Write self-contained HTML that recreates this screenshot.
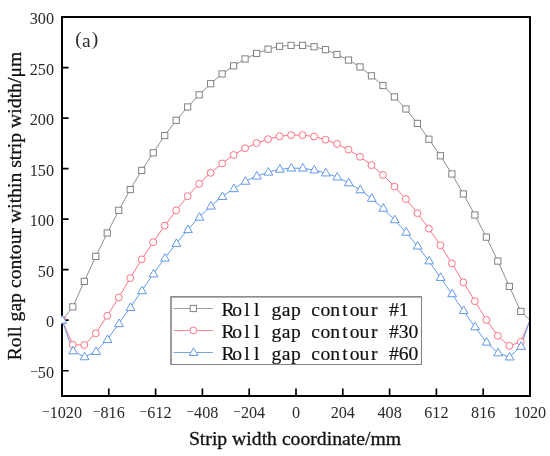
<!DOCTYPE html>
<html><head><meta charset="utf-8"><title>Roll gap contour</title>
<style>html,body{margin:0;padding:0;background:#fff;}svg{display:block;}
text{font-family:"Liberation Serif","Noto Serif CJK SC",serif;fill:#111;}
.b{stroke:#111;stroke-width:0.3px;}
.t{fill:#2a2a2a;}
.l{stroke:#111;stroke-width:0.18px;}
</style></head><body>
<svg width="550" height="456" viewBox="0 0 550 456">
<rect width="550" height="456" fill="#fff"/>
<defs><clipPath id="pc"><rect x="61" y="0" width="468" height="456"/></clipPath></defs>
<path d="M62.00,396.0V388.5M108.80,396.0V388.5M155.60,396.0V388.5M202.40,396.0V388.5M249.20,396.0V388.5M296.00,396.0V388.5M342.80,396.0V388.5M389.60,396.0V388.5M436.40,396.0V388.5M483.20,396.0V388.5M530.00,396.0V388.5M62.0,370.73H68.6M62.0,320.20H68.6M62.0,269.67H68.6M62.0,219.13H68.6M62.0,168.60H68.6M62.0,118.07H68.6M62.0,67.53H68.6M62.0,17.00H68.6" stroke="#000" stroke-width="1.7" fill="none"/>
<rect x="62.0" y="17.0" width="468.0" height="379.0" fill="none" stroke="#000" stroke-width="2"/>
<g clip-path="url(#pc)" fill="#fff">
<polyline points="62.00,320.20 72.80,306.86 84.29,281.39 95.77,256.42 107.26,232.98 118.75,210.34 130.24,189.52 141.72,170.42 153.21,152.83 164.70,135.55 176.18,120.29 187.67,106.95 199.16,94.82 210.64,83.70 222.13,73.90 233.62,65.81 245.11,58.94 256.59,53.48 268.08,49.14 279.57,46.31 291.05,45.40 302.54,45.40 314.03,46.71 325.51,49.64 337.00,54.49 348.49,60.05 359.98,66.92 371.46,75.82 382.95,85.52 394.44,96.94 405.92,108.97 417.41,123.42 428.90,139.19 440.38,155.76 451.87,173.95 463.36,193.96 474.85,214.99 486.33,237.12 497.82,261.07 509.31,286.44 520.79,311.40 530.00,320.20" fill="none" stroke="#8e8e8e" stroke-width="1"/>
<polyline points="62.00,320.20 72.80,344.76 84.29,344.96 95.77,333.23 107.26,315.75 118.75,297.46 130.24,278.15 141.72,259.35 153.21,242.17 164.70,225.60 176.18,210.34 187.67,196.19 199.16,183.86 210.64,172.84 222.13,163.44 233.62,154.95 245.11,148.28 256.59,143.13 268.08,139.19 279.57,136.26 291.05,135.14 302.54,135.14 314.03,136.56 325.51,139.69 337.00,143.94 348.49,149.60 359.98,156.77 371.46,165.16 382.95,174.96 394.44,186.59 405.92,199.02 417.41,213.17 428.90,228.63 440.38,245.21 451.87,263.40 463.36,282.30 474.85,301.20 486.33,319.89 497.82,335.86 509.31,345.87 520.79,341.83 530.00,320.20" fill="none" stroke="#ff7282" stroke-width="1"/>
<polyline points="62.00,320.20 72.80,350.91 84.29,356.88 95.77,351.62 107.26,339.60 118.75,323.73 130.24,307.56 141.72,290.78 153.21,274.00 164.70,258.24 176.18,243.48 187.67,229.74 199.16,217.30 210.64,206.19 222.13,196.59 233.62,188.80 245.11,181.32 256.59,176.17 268.08,172.23 279.57,169.30 291.05,168.19 302.54,168.19 314.03,170.11 325.51,173.04 337.00,177.08 348.49,182.94 359.98,189.92 371.46,198.41 382.95,208.31 394.44,219.83 405.92,232.26 417.41,246.11 428.90,260.97 440.38,277.54 451.87,293.81 463.36,310.69 474.85,326.86 486.33,342.22 497.82,352.94 509.31,357.08 520.79,346.47 530.00,320.20" fill="none" stroke="#6399ea" stroke-width="1"/>
<g stroke="#828282" stroke-width="1"><rect x="58.90" y="317.10" width="6.2" height="6.2"/><rect x="69.70" y="303.76" width="6.2" height="6.2"/><rect x="81.19" y="278.29" width="6.2" height="6.2"/><rect x="92.67" y="253.32" width="6.2" height="6.2"/><rect x="104.16" y="229.88" width="6.2" height="6.2"/><rect x="115.65" y="207.24" width="6.2" height="6.2"/><rect x="127.14" y="186.42" width="6.2" height="6.2"/><rect x="138.62" y="167.32" width="6.2" height="6.2"/><rect x="150.11" y="149.73" width="6.2" height="6.2"/><rect x="161.60" y="132.45" width="6.2" height="6.2"/><rect x="173.08" y="117.19" width="6.2" height="6.2"/><rect x="184.57" y="103.85" width="6.2" height="6.2"/><rect x="196.06" y="91.72" width="6.2" height="6.2"/><rect x="207.54" y="80.60" width="6.2" height="6.2"/><rect x="219.03" y="70.80" width="6.2" height="6.2"/><rect x="230.52" y="62.71" width="6.2" height="6.2"/><rect x="242.01" y="55.84" width="6.2" height="6.2"/><rect x="253.49" y="50.38" width="6.2" height="6.2"/><rect x="264.98" y="46.04" width="6.2" height="6.2"/><rect x="276.47" y="43.21" width="6.2" height="6.2"/><rect x="287.95" y="42.30" width="6.2" height="6.2"/><rect x="299.44" y="42.30" width="6.2" height="6.2"/><rect x="310.93" y="43.61" width="6.2" height="6.2"/><rect x="322.41" y="46.54" width="6.2" height="6.2"/><rect x="333.90" y="51.39" width="6.2" height="6.2"/><rect x="345.39" y="56.95" width="6.2" height="6.2"/><rect x="356.88" y="63.82" width="6.2" height="6.2"/><rect x="368.36" y="72.72" width="6.2" height="6.2"/><rect x="379.85" y="82.42" width="6.2" height="6.2"/><rect x="391.34" y="93.84" width="6.2" height="6.2"/><rect x="402.82" y="105.87" width="6.2" height="6.2"/><rect x="414.31" y="120.32" width="6.2" height="6.2"/><rect x="425.80" y="136.09" width="6.2" height="6.2"/><rect x="437.28" y="152.66" width="6.2" height="6.2"/><rect x="448.77" y="170.85" width="6.2" height="6.2"/><rect x="460.26" y="190.86" width="6.2" height="6.2"/><rect x="471.75" y="211.89" width="6.2" height="6.2"/><rect x="483.23" y="234.02" width="6.2" height="6.2"/><rect x="494.72" y="257.97" width="6.2" height="6.2"/><rect x="506.21" y="283.34" width="6.2" height="6.2"/><rect x="517.69" y="308.30" width="6.2" height="6.2"/></g>
<g stroke="#ff7282" stroke-width="1"><circle cx="62.00" cy="320.20" r="3.45"/><circle cx="72.80" cy="344.76" r="3.45"/><circle cx="84.29" cy="344.96" r="3.45"/><circle cx="95.77" cy="333.23" r="3.45"/><circle cx="107.26" cy="315.75" r="3.45"/><circle cx="118.75" cy="297.46" r="3.45"/><circle cx="130.24" cy="278.15" r="3.45"/><circle cx="141.72" cy="259.35" r="3.45"/><circle cx="153.21" cy="242.17" r="3.45"/><circle cx="164.70" cy="225.60" r="3.45"/><circle cx="176.18" cy="210.34" r="3.45"/><circle cx="187.67" cy="196.19" r="3.45"/><circle cx="199.16" cy="183.86" r="3.45"/><circle cx="210.64" cy="172.84" r="3.45"/><circle cx="222.13" cy="163.44" r="3.45"/><circle cx="233.62" cy="154.95" r="3.45"/><circle cx="245.11" cy="148.28" r="3.45"/><circle cx="256.59" cy="143.13" r="3.45"/><circle cx="268.08" cy="139.19" r="3.45"/><circle cx="279.57" cy="136.26" r="3.45"/><circle cx="291.05" cy="135.14" r="3.45"/><circle cx="302.54" cy="135.14" r="3.45"/><circle cx="314.03" cy="136.56" r="3.45"/><circle cx="325.51" cy="139.69" r="3.45"/><circle cx="337.00" cy="143.94" r="3.45"/><circle cx="348.49" cy="149.60" r="3.45"/><circle cx="359.98" cy="156.77" r="3.45"/><circle cx="371.46" cy="165.16" r="3.45"/><circle cx="382.95" cy="174.96" r="3.45"/><circle cx="394.44" cy="186.59" r="3.45"/><circle cx="405.92" cy="199.02" r="3.45"/><circle cx="417.41" cy="213.17" r="3.45"/><circle cx="428.90" cy="228.63" r="3.45"/><circle cx="440.38" cy="245.21" r="3.45"/><circle cx="451.87" cy="263.40" r="3.45"/><circle cx="463.36" cy="282.30" r="3.45"/><circle cx="474.85" cy="301.20" r="3.45"/><circle cx="486.33" cy="319.89" r="3.45"/><circle cx="497.82" cy="335.86" r="3.45"/><circle cx="509.31" cy="345.87" r="3.45"/><circle cx="520.79" cy="341.83" r="3.45"/></g>
<g stroke="#6399ea" stroke-width="1"><path d="M62.30,315.50L66.70,323.10L57.90,323.10Z"/><path d="M73.10,346.21L77.50,353.81L68.70,353.81Z"/><path d="M84.59,352.18L88.99,359.78L80.19,359.78Z"/><path d="M96.07,346.92L100.47,354.52L91.67,354.52Z"/><path d="M107.56,334.90L111.96,342.50L103.16,342.50Z"/><path d="M119.05,319.03L123.45,326.63L114.65,326.63Z"/><path d="M130.54,302.86L134.94,310.46L126.14,310.46Z"/><path d="M142.02,286.08L146.42,293.68L137.62,293.68Z"/><path d="M153.51,269.30L157.91,276.90L149.11,276.90Z"/><path d="M165.00,253.54L169.40,261.14L160.60,261.14Z"/><path d="M176.48,238.78L180.88,246.38L172.08,246.38Z"/><path d="M187.97,225.04L192.37,232.64L183.57,232.64Z"/><path d="M199.46,212.60L203.86,220.20L195.06,220.20Z"/><path d="M210.94,201.49L215.34,209.09L206.54,209.09Z"/><path d="M222.43,191.89L226.83,199.49L218.03,199.49Z"/><path d="M233.92,184.10L238.32,191.70L229.52,191.70Z"/><path d="M245.41,176.62L249.81,184.22L241.01,184.22Z"/><path d="M256.89,171.47L261.29,179.07L252.49,179.07Z"/><path d="M268.38,167.53L272.78,175.13L263.98,175.13Z"/><path d="M279.87,164.60L284.27,172.20L275.47,172.20Z"/><path d="M291.35,163.49L295.75,171.09L286.95,171.09Z"/><path d="M302.84,163.49L307.24,171.09L298.44,171.09Z"/><path d="M314.33,165.41L318.73,173.01L309.93,173.01Z"/><path d="M325.81,168.34L330.21,175.94L321.41,175.94Z"/><path d="M337.30,172.38L341.70,179.98L332.90,179.98Z"/><path d="M348.79,178.24L353.19,185.84L344.39,185.84Z"/><path d="M360.28,185.22L364.68,192.82L355.88,192.82Z"/><path d="M371.76,193.71L376.16,201.31L367.36,201.31Z"/><path d="M383.25,203.61L387.65,211.21L378.85,211.21Z"/><path d="M394.74,215.13L399.14,222.73L390.34,222.73Z"/><path d="M406.22,227.56L410.62,235.16L401.82,235.16Z"/><path d="M417.71,241.41L422.11,249.01L413.31,249.01Z"/><path d="M429.20,256.27L433.60,263.87L424.80,263.87Z"/><path d="M440.68,272.84L445.08,280.44L436.28,280.44Z"/><path d="M452.17,289.11L456.57,296.71L447.77,296.71Z"/><path d="M463.66,305.99L468.06,313.59L459.26,313.59Z"/><path d="M475.15,322.16L479.55,329.76L470.75,329.76Z"/><path d="M486.63,337.52L491.03,345.12L482.23,345.12Z"/><path d="M498.12,348.24L502.52,355.84L493.72,355.84Z"/><path d="M509.61,352.38L514.01,359.98L505.21,359.98Z"/><path d="M521.09,341.77L525.49,349.37L516.69,349.37Z"/></g>
</g>
<text class="t" x="54" y="377.83" font-size="16.2" text-anchor="end"><tspan font-size="13.6" dy="-2.0">−</tspan><tspan dy="2.0">50</tspan></text>
<text class="t" x="54" y="327.30" font-size="16.2" text-anchor="end">0</text>
<text class="t" x="54" y="276.77" font-size="16.2" text-anchor="end">50</text>
<text class="t" x="54" y="226.23" font-size="16.2" text-anchor="end">100</text>
<text class="t" x="54" y="175.70" font-size="16.2" text-anchor="end">150</text>
<text class="t" x="54" y="125.17" font-size="16.2" text-anchor="end">200</text>
<text class="t" x="54" y="74.63" font-size="16.2" text-anchor="end">250</text>
<text class="t" x="54" y="24.10" font-size="16.2" text-anchor="end">300</text>
<text class="t" x="62.00" y="417.6" font-size="16.2" text-anchor="middle"><tspan font-size="13.6" dy="-2.0">−</tspan><tspan dy="2.0">1020</tspan></text>
<text class="t" x="108.80" y="417.6" font-size="16.2" text-anchor="middle"><tspan font-size="13.6" dy="-2.0">−</tspan><tspan dy="2.0">816</tspan></text>
<text class="t" x="155.60" y="417.6" font-size="16.2" text-anchor="middle"><tspan font-size="13.6" dy="-2.0">−</tspan><tspan dy="2.0">612</tspan></text>
<text class="t" x="202.40" y="417.6" font-size="16.2" text-anchor="middle"><tspan font-size="13.6" dy="-2.0">−</tspan><tspan dy="2.0">408</tspan></text>
<text class="t" x="249.20" y="417.6" font-size="16.2" text-anchor="middle"><tspan font-size="13.6" dy="-2.0">−</tspan><tspan dy="2.0">204</tspan></text>
<text class="t" x="296.00" y="417.6" font-size="16.2" text-anchor="middle">0</text>
<text class="t" x="342.80" y="417.6" font-size="16.2" text-anchor="middle">204</text>
<text class="t" x="389.60" y="417.6" font-size="16.2" text-anchor="middle">408</text>
<text class="t" x="436.40" y="417.6" font-size="16.2" text-anchor="middle">612</text>
<text class="t" x="483.20" y="417.6" font-size="16.2" text-anchor="middle">816</text>
<text class="t" x="530.00" y="417.6" font-size="16.2" text-anchor="middle">1020</text>
<text class="b" x="295" y="445" font-size="19.7" text-anchor="middle">Strip width coordinate/mm</text>
<text class="b" transform="translate(21,206) rotate(-90)" x="0" y="0" font-size="19.7" text-anchor="middle">Roll gap contour within strip width/μm</text>
<text class="t" x="75.3" y="44.6" font-size="19.5">(<tspan dx="0.3" dy="2.0">a</tspan><tspan dx="1.0" dy="-2.0">)</tspan></text>
<rect x="171" y="296.8" width="250.5" height="67.7" fill="#fff" stroke="none"/>
<path d="M171,364.5V296.8H421.5" fill="none" stroke="#686868" stroke-width="1.3"/>
<path d="M421.5,296.2V364.5H170.4" fill="none" stroke="#858585" stroke-width="1.1"/>
<path d="M173.5,308.5H213" stroke="#a0a0a0" stroke-width="1"/>
<g fill="#fff" stroke="#828282" stroke-width="1"><rect x="190.20" y="305.40" width="6.2" height="6.2"/></g>
<text class="l" transform="scale(1.0,1)" y="315.60" font-size="19.6"><tspan x="221.56 232.20 244.18 253.98">Roll</tspan> <tspan x="271.40 281.75 291.00">gap</tspan> <tspan x="311.15 320.40 330.20 342.18 349.80 359.60 371.04">contour</tspan> <tspan x="389.00 398.80">#1</tspan></text>
<path d="M173.5,330.5H213" stroke="#ff8a8e" stroke-width="1"/>
<g fill="#fff" stroke="#ff7282" stroke-width="1"><circle cx="193.30" cy="330.50" r="3.45"/></g>
<text class="l" transform="scale(1.0,1)" y="337.60" font-size="19.6"><tspan x="221.56 232.20 244.18 253.98">Roll</tspan> <tspan x="271.40 281.75 291.00">gap</tspan> <tspan x="311.15 320.40 330.20 342.18 349.80 359.60 371.04">contour</tspan> <tspan x="389.00 398.80 408.60">#30</tspan></text>
<path d="M173.5,352.5H213" stroke="#78a5e6" stroke-width="1"/>
<g fill="#fff" stroke="#6399ea" stroke-width="1"><path d="M193.60,347.80L198.00,355.40L189.20,355.40Z"/></g>
<text class="l" transform="scale(1.0,1)" y="359.60" font-size="19.6"><tspan x="221.56 232.20 244.18 253.98">Roll</tspan> <tspan x="271.40 281.75 291.00">gap</tspan> <tspan x="311.15 320.40 330.20 342.18 349.80 359.60 371.04">contour</tspan> <tspan x="389.00 398.80 408.60">#60</tspan></text>
</svg></body></html>
